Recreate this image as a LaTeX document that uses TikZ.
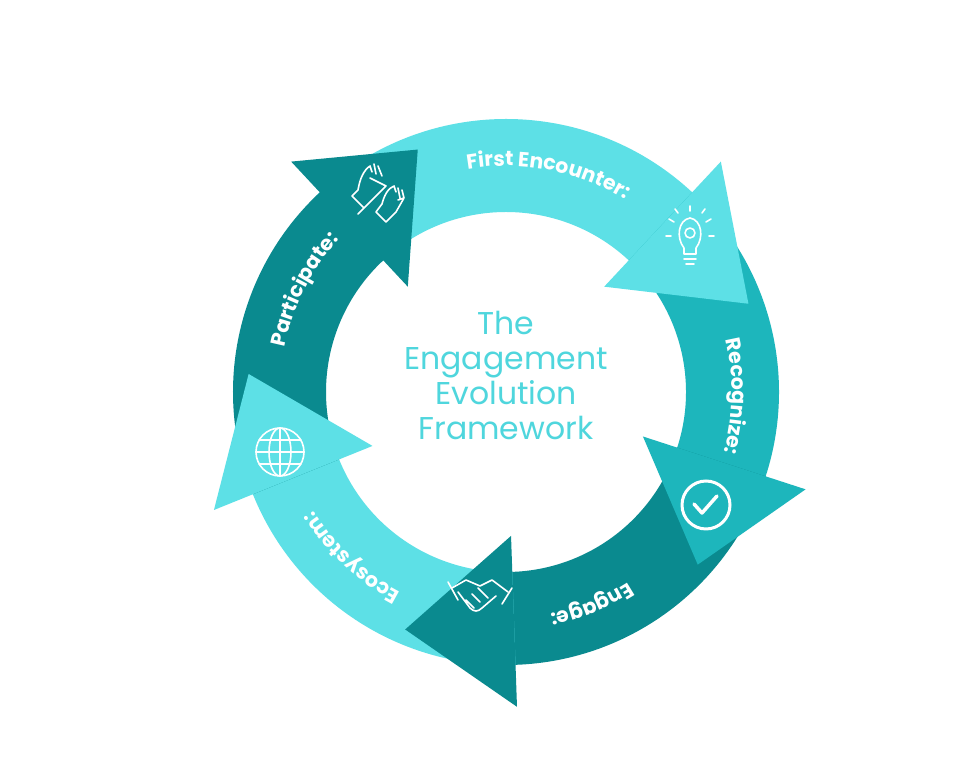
\documentclass[tikz,border=0pt]{standalone}
\usepackage{fontspec}
\setmainfont{Poppins}
\usetikzlibrary{decorations.text,calc}
\definecolor{lightc}{HTML}{5DE0E6}
\definecolor{midc}{HTML}{1DB6BC}
\definecolor{darkc}{HTML}{0A8A8F}
\definecolor{titlec}{HTML}{4FD6DD}
\def\Rin{180}\def\Rout{273}
\newcommand\segbody[3]{\fill[#1] (#2:\Rout) arc[start angle=#2,end angle=#3,radius=\Rout] -- (#3:\Rin) arc[start angle=#3,end angle=#2,radius=\Rin] -- cycle;}
\newcommand\seghead[3]{\fill[#1] (#2:\Rin-36) -- (#2:\Rout+42) -- (#3:258) -- cycle;}
\newcommand\arctext[4]{\path[decorate,decoration={text along path,text align=center,text={|\bfseries\fontsize{20.5}{20}\selectfont\color{white}|#4}}] (#1:#3) arc[start angle=#1,end angle=#2,radius=#3];}
\tikzset{icon/.style={white,line width=1.6pt,line cap=round,line join=round}}
\begin{document}
\begin{tikzpicture}[x=1pt,y=1pt]
\useasboundingbox (0,0) rectangle (980,778);
\fill[white] (0,0) rectangle (980,778);
\begin{scope}[shift={(506,386)}]
\segbody{lightc}{134}{46}
\segbody{midc}{47}{-19}
\segbody{darkc}{-18}{-89}
\segbody{lightc}{-88}{-159}
\segbody{darkc}{-158}{-228}
\seghead{lightc}{47}{20}
\seghead{midc}{-18}{-42}
\seghead{darkc}{-88}{-113}
\seghead{lightc}{-158}{-184}
\seghead{darkc}{133}{110}
\arctext{105}{53}{226}{First Encounter:}
\arctext{28}{-30}{226}{Recognize:}
\arctext{-43}{-93}{226}{Engage:}
\arctext{-108}{-158}{226}{Ecosystem:}
\arctext{188}{118}{226}{Participate:}
\end{scope}
\node[text=titlec,align=center,font=\fontsize{31.5}{35}\selectfont] (title) at (506,403) {The\\Engagement\\Evolution\\Framework};
% check icon
\draw[icon,line width=3pt] (706,273) circle (24);
\draw[icon,line width=3.5pt] (694,274) -- (702,265) -- (717,282);
% globe
\draw[icon] (280,326) circle (24);
\draw[icon] (280,326) ellipse (11 and 24);
\draw[icon] (280,302) -- (280,350) (256,326) -- (304,326) (259,314) -- (301,314) (259,338) -- (301,338);
% lightbulb
\draw[icon] (684,530) .. controls (676,540) and (678,558) .. (690,560) .. controls (702,558) and (704,540) .. (696,530) -- (696,524) -- (684,524) -- cycle;
\draw[icon] (684,519) -- (696,519) (686,514) -- (694,514);
\draw[icon] (690,545) circle (5);
\draw[icon] (690,567)--(690,572) (706,556)--(711,559) (674,556)--(669,559) (709,542)--(714,542) (671,542)--(666,542) (702,565)--(705,569) (678,565)--(675,569);
% handshake
\draw[icon] (452,190) -- (466,198) -- (480,192) -- (492,198) -- (508,186);
\draw[icon] (458,186) -- (470,170) .. controls (474,166) and (478,166) .. (482,170) -- (496,182) (466,178)--(474,170) (472,184)--(480,176) (478,190)--(488,180);
\draw[icon] (448,196) -- (458,178) (512,190) -- (502,174);
% hands
\draw[icon] (352,582) -- (364,570) -- (372,578) (364,570) -- (358,564) (352,582) -- (358,588) .. controls (360,600) and (364,608) .. (370,612) -- (372,606) (374,614) -- (376,604) (378,612) -- (382,602) (370,600) -- (386,592) -- (372,578);
\draw[icon] (376,566) -- (386,556) -- (396,566) (376,566) -- (382,574) .. controls (384,582) and (388,590) .. (394,592) -- (396,586) (398,590) -- (400,580) (402,588) -- (404,580) (398,578) -- (404,580) -- (396,566);
\end{tikzpicture}
\end{document}
